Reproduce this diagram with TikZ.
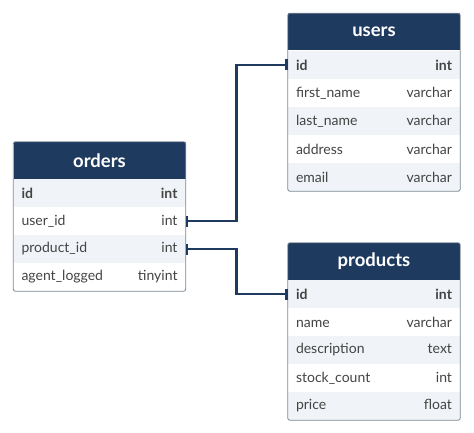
\documentclass[tikz,border=0pt]{standalone}
\usepackage{fontspec}
\setmainfont{Lato}
\usepackage{xcolor}
\usepackage{tikz}
\usetikzlibrary{arrows.meta,positioning,fit}

\definecolor{navy}{HTML}{1F3A5F}
\definecolor{rowgray}{HTML}{F0F3F7}
\definecolor{framegray}{HTML}{7D8894}
\definecolor{txt}{HTML}{444444}

\begin{document}
\begin{tikzpicture}[x=1pt,y=-1pt,
  head/.style={fill=navy,text=white,font=\fontsize{18.5}{21}\selectfont\bfseries,
    minimum width=172pt,minimum height=37pt,inner sep=0pt},
  row/.style={minimum width=172pt,minimum height=28pt,inner xsep=8pt,inner ysep=0pt,
    text width=156pt,font=\fontsize{14}{16}\selectfont,text=txt},
  rowa/.style={row,fill=rowgray}, rowb/.style={row,fill=white},
  frame/.style={draw=framegray,line width=0.8pt,rounded corners=2pt,inner sep=0pt},
  link/.style={draw=navy,line width=2.6pt,{Bar[width=11pt]}-{Bar[width=11pt]}}]
\useasboundingbox (0,0) rectangle (474,433);
% orders table
\node[head] (oh) at (99.5,160.5) {orders};
\node[rowa] (o1) at (99.5,193) {\textbf{id}\hfill\textbf{int}};
\node[rowb] (o2) at (99.5,221) {user\_id\hfill int};
\node[rowa] (o3) at (99.5,249) {product\_id\hfill int};
\node[rowb] (o4) at (99.5,277) {agent\_logged\hfill tinyint};
\node[frame,fit=(oh)(o4)] (orders) {};
% users table
\node[head] (uh) at (374,32) {users};
\node[rowa] (u1) at (374,65) {\textbf{id}\hfill\textbf{int}};
\node[rowb] (u2) at (374,93) {first\_name\hfill varchar};
\node[rowa] (u3) at (374,121) {last\_name\hfill varchar};
\node[rowb] (u4) at (374,149) {address\hfill varchar};
\node[rowa] (u5) at (374,177) {email\hfill varchar};
\node[frame,fit=(uh)(u5)] (users) {};
% products table
\node[head] (ph) at (374,261.5) {products};
\node[rowa] (p1) at (374,294) {\textbf{id}\hfill\textbf{int}};
\node[rowb] (p2) at (374,322) {name\hfill varchar};
\node[rowa] (p3) at (374,350) {description\hfill text};
\node[rowb] (p4) at (374,378) {stock\_count\hfill int};
\node[rowa] (p5) at (374,406) {price\hfill float};
\node[frame,fit=(ph)(p5)] (products) {};
% relations
\draw[link] (o2.east) -- ++(51,0) |- (u1.west);
\draw[link] (o3.east) -- ++(51,0) |- (p1.west);
\end{tikzpicture}
\end{document}
